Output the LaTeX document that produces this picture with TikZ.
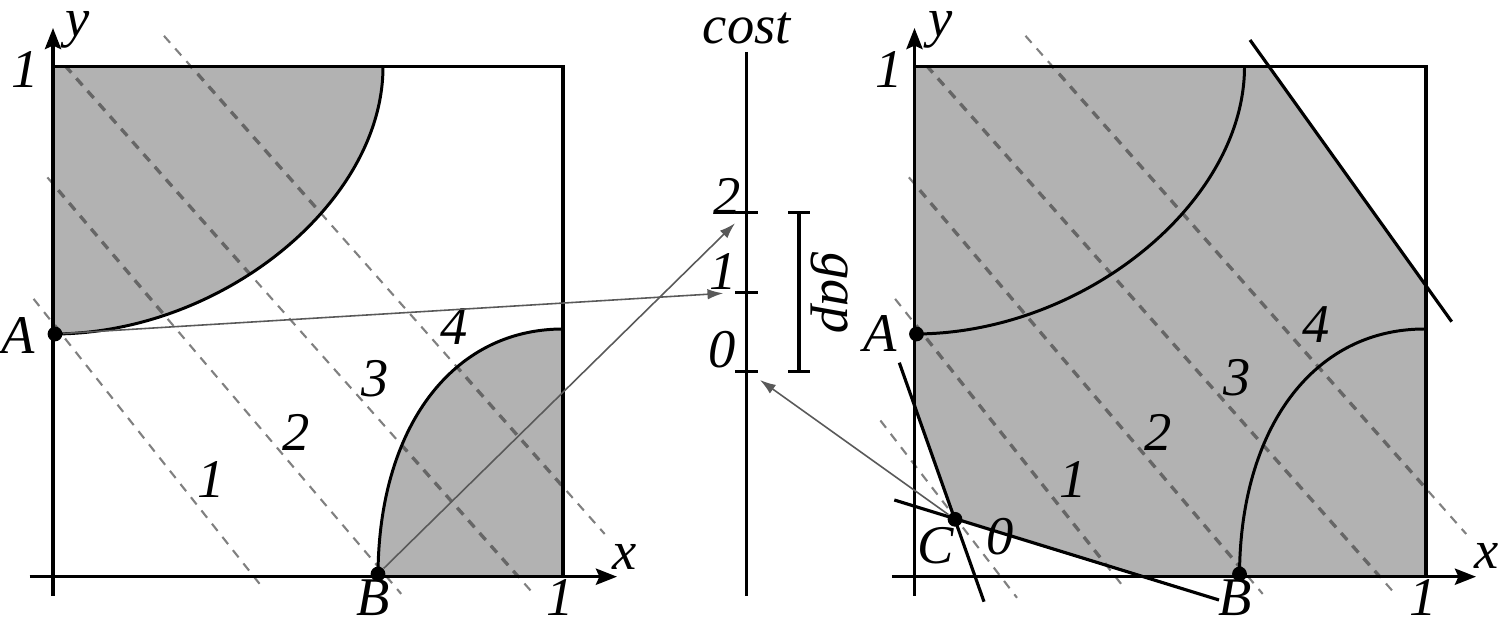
\documentclass[tikz,border=0pt]{standalone}
\usepackage{fontspec}
\setmainfont{Liberation Serif}
\usetikzlibrary{arrows.meta}
\begin{document}
\begin{tikzpicture}[x=0.01cm,y=-0.01cm]
\tikzset{
 frame/.style={line width=1pt, black},
 axisline/.style={line width=0.95pt, black, -{Stealth[length=6pt,width=4.6pt,inset=1pt]}},
 fillreg/.style={fill=black!30},
 lvl/.style={dash pattern=on 2.6pt off 2.2pt, line width=0.6pt, color=black!50},
 lvlin/.style={dash pattern=on 2.6pt off 2.2pt, line width=0.95pt, color=black!60},
 bound/.style={line width=0.85pt, black},
 cutline/.style={line width=0.9pt, black},
 conn/.style={line width=0.45pt, color=black!65, -{Latex[length=4.5pt,width=3pt]}},
 dot/.style={circle, fill=black, inner sep=0pt, minimum size=4.2pt},
 lbl/.style={font=\fontsize{15.5}{18}\selectfont\itshape, inner sep=0pt},
}
\def\levellines#1{%
 \draw[#1] (33.6,298.9) -- (262.8,587.9);
 \draw[#1] (47.4,177.4) -- (401.2,593.9);
 \draw[#1] (65.2,65.8) -- (533.6,593.9);
 \draw[#1] (164,35.9) -- (604.7,534);}
\useasboundingbox (0,0) rectangle (1500,625);

% ---------- left panel ----------
\fill[fillreg] (53,66.7) -- (383,66.7) .. controls (383,203) and (221.3,334) .. (53,334) -- cycle;
\fill[fillreg] (378,576.7) .. controls (378,428.1) and (452,329) .. (563,329) -- (563,576.7) -- cycle;
\levellines{lvl}
\begin{scope}
 \clip (53,66.7) -- (383,66.7) .. controls (383,203) and (221.3,334) .. (53,334) -- cycle;
 \levellines{lvlin}
\end{scope}
\begin{scope}
 \clip (378,576.7) .. controls (378,428.1) and (452,329) .. (563,329) -- (563,576.7) -- cycle;
 \levellines{lvlin}
\end{scope}
\draw[bound] (53,334) .. controls (221.3,334) and (383,203) .. (383,66.7);
\draw[bound] (378,576.7) .. controls (378,428.1) and (452,329) .. (563,329);
\draw[frame] (53,66.7) -- (563,66.7) -- (563,576.7);
\draw[axisline] (29.6,576.7) -- (617,576.7);
\draw[axisline] (53,596) -- (53,28);

\node[dot] (A) at (55,334) {};
\node[dot] (B) at (378,574) {};
\node[lbl] (ylab) at (78,30) {y};
\node[lbl] (xlab) at (625,557) {x};
\node[lbl] (one1) at (25,70) {1};
\node[lbl] (one2) at (560,598) {1};
\node[lbl] (Alab) at (18.3,336) {A};
\node[lbl] (Blab) at (373,598) {B};
\node[lbl] (l1) at (211.5,480) {1};
\node[lbl] (l2) at (296.4,432) {2};
\node[lbl] (l3) at (375.5,379) {3};
\node[lbl] (l4) at (453.8,327) {4};

% ---------- middle ----------
\draw[frame] (746.7,52) -- (746.7,596);
\draw[frame] (735,212.3) -- (758,212.3);
\draw[frame] (735,292.3) -- (758,292.3);
\draw[frame] (735,371.7) -- (758,371.7);
\draw[frame] (799,212.3) -- (799,371.7);
\draw[frame] (788,212.3) -- (810,212.3);
\draw[frame] (788,371.7) -- (810,371.7);
\node[lbl] (costlab) at (746.7,28) {cost};
\node[lbl] (c2) at (726.7,196.7) {2};
\node[lbl] (c1) at (723,271.7) {1};
\node[lbl] (c0) at (721.7,350) {0};
\node[lbl, rotate=-90] (gaplab) at (830,293) {gap};
\coordinate (t2) at (735,223.3);
\coordinate (t1) at (723.3,293.3);
\coordinate (t0) at (760,380);

% ---------- right panel ----------
\fill[fillreg] (914.5,66.7) -- (1269,66.7) -- (1426,286) -- (1426,576.7) -- (1143,576.7) -- (955,519.3) -- (914.5,407) -- cycle;
\draw[lvl] (880.4,420.5) -- (1017,597.8);
\begin{scope}[shift={(861.5,0)}]
 \levellines{lvl}
\end{scope}
\begin{scope}
 \clip (914.5,66.7) -- (1269,66.7) -- (1426,286) -- (1426,576.7) -- (1143,576.7) -- (955,519.3) -- (914.5,407) -- cycle;
 \draw[lvlin] (880.4,420.5) -- (1017,597.8);
 \begin{scope}[shift={(861.5,0)}]
  \levellines{lvlin}
 \end{scope}
\end{scope}
\begin{scope}[shift={(861.5,0)}]
 \draw[bound] (53,334) .. controls (221.3,334) and (383,203) .. (383,66.7);
 \draw[bound] (378,576.7) .. controls (378,428.1) and (452,329) .. (563,329);
\end{scope}
\draw[frame] (914.5,66.7) -- (1426,66.7) -- (1426,576.7);
\draw[axisline] (891.8,576.7) -- (1476,576.7);
\draw[axisline] (914.5,596) -- (914.5,28);
\draw[cutline] (899.3,362.7) -- (984,601.7);
\draw[cutline] (894.3,500) -- (1219,600);
\draw[cutline] (1250,40) -- (1451.7,321.7);

\node[dot] (A2) at (916.5,334) {};
\node[dot] (B2) at (1239.5,574) {};
\node[dot] (C2) at (955,519.3) {};
\node[lbl] (ylab2) at (940.5,30) {y};
\node[lbl] (xlab2) at (1486.5,556) {x};
\node[lbl] (one3) at (889,70) {1};
\node[lbl] (one4) at (1423,598) {1};
\node[lbl] (Alab2) at (880.4,334) {A};
\node[lbl] (Blab2) at (1235.5,598) {B};
\node[lbl] (Clab2) at (935.5,546) {C};
\node[lbl] (l0r) at (1000,536.7) {0};
\node[lbl] (l1r) at (1073,480) {1};
\node[lbl] (l2r) at (1158,432) {2};
\node[lbl] (l3r) at (1237,378) {3};
\node[lbl] (l4r) at (1316,325) {4};

% ---------- connectors ----------
\draw[conn] (A) -- (t1);
\draw[conn] (B) -- (t2);
\draw[conn] (C2) -- (t0);
\end{tikzpicture}
\end{document}
